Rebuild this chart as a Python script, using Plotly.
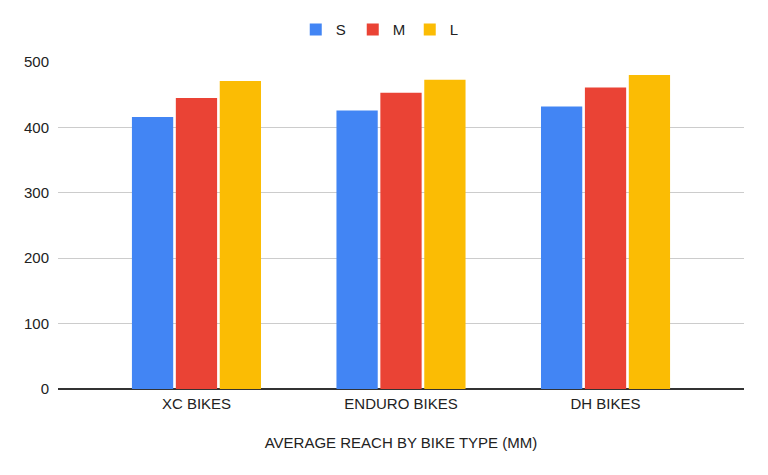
import plotly.graph_objects as go

categories = ['XC BIKES', 'ENDURO BIKES', 'DH BIKES']
size_s = [416, 426, 432]
size_m = [445, 453, 461]
size_l = [471, 473, 480]
y_ticks = [0, 100, 200, 300, 400, 500]

colors = {'S': '#4285F4', 'M': '#EA4335', 'L': '#FBBC04'}

fig = go.Figure()
for name, vals in [('S', size_s), ('M', size_m), ('L', size_l)]:
    fig.add_trace(go.Bar(x=categories, y=vals, name=name,
                         marker=dict(color=colors[name], line=dict(width=0))))

fig.update_layout(
    width=768, height=475,
    margin=dict(l=50, r=32, t=54, b=94),
    paper_bgcolor='white',
    plot_bgcolor='white',
    font=dict(family='Arial, Liberation Sans, sans-serif', size=15, color='#222222'),
    barmode='group',
    bargap=0.356,
    bargroupgap=0.06,
    legend=dict(orientation='h', x=0.486, xanchor='center', xref='container',
                y=0.954, yanchor='middle', yref='container',
                itemwidth=30, entrywidth=12, entrywidthmode='pixels',
                font=dict(size=15), traceorder='normal'),
    xaxis=dict(
        title=dict(text='AVERAGE REACH BY BIKE TYPE (MM)', standoff=26,
                   font=dict(size=15)),
        range=[-0.677, 2.677], automargin=False,
        showgrid=False, showline=False, ticks='', ticklabelstandoff=4,
    ),
    yaxis=dict(
        range=[0, 500], tickvals=y_ticks, showgrid=True, gridcolor='#cccccc',
        gridwidth=1, zeroline=True, zerolinecolor='#333333', zerolinewidth=1.5,
        ticks='', ticklabelstandoff=8, automargin=False,
    ),
)

fig.write_html('out.html')
